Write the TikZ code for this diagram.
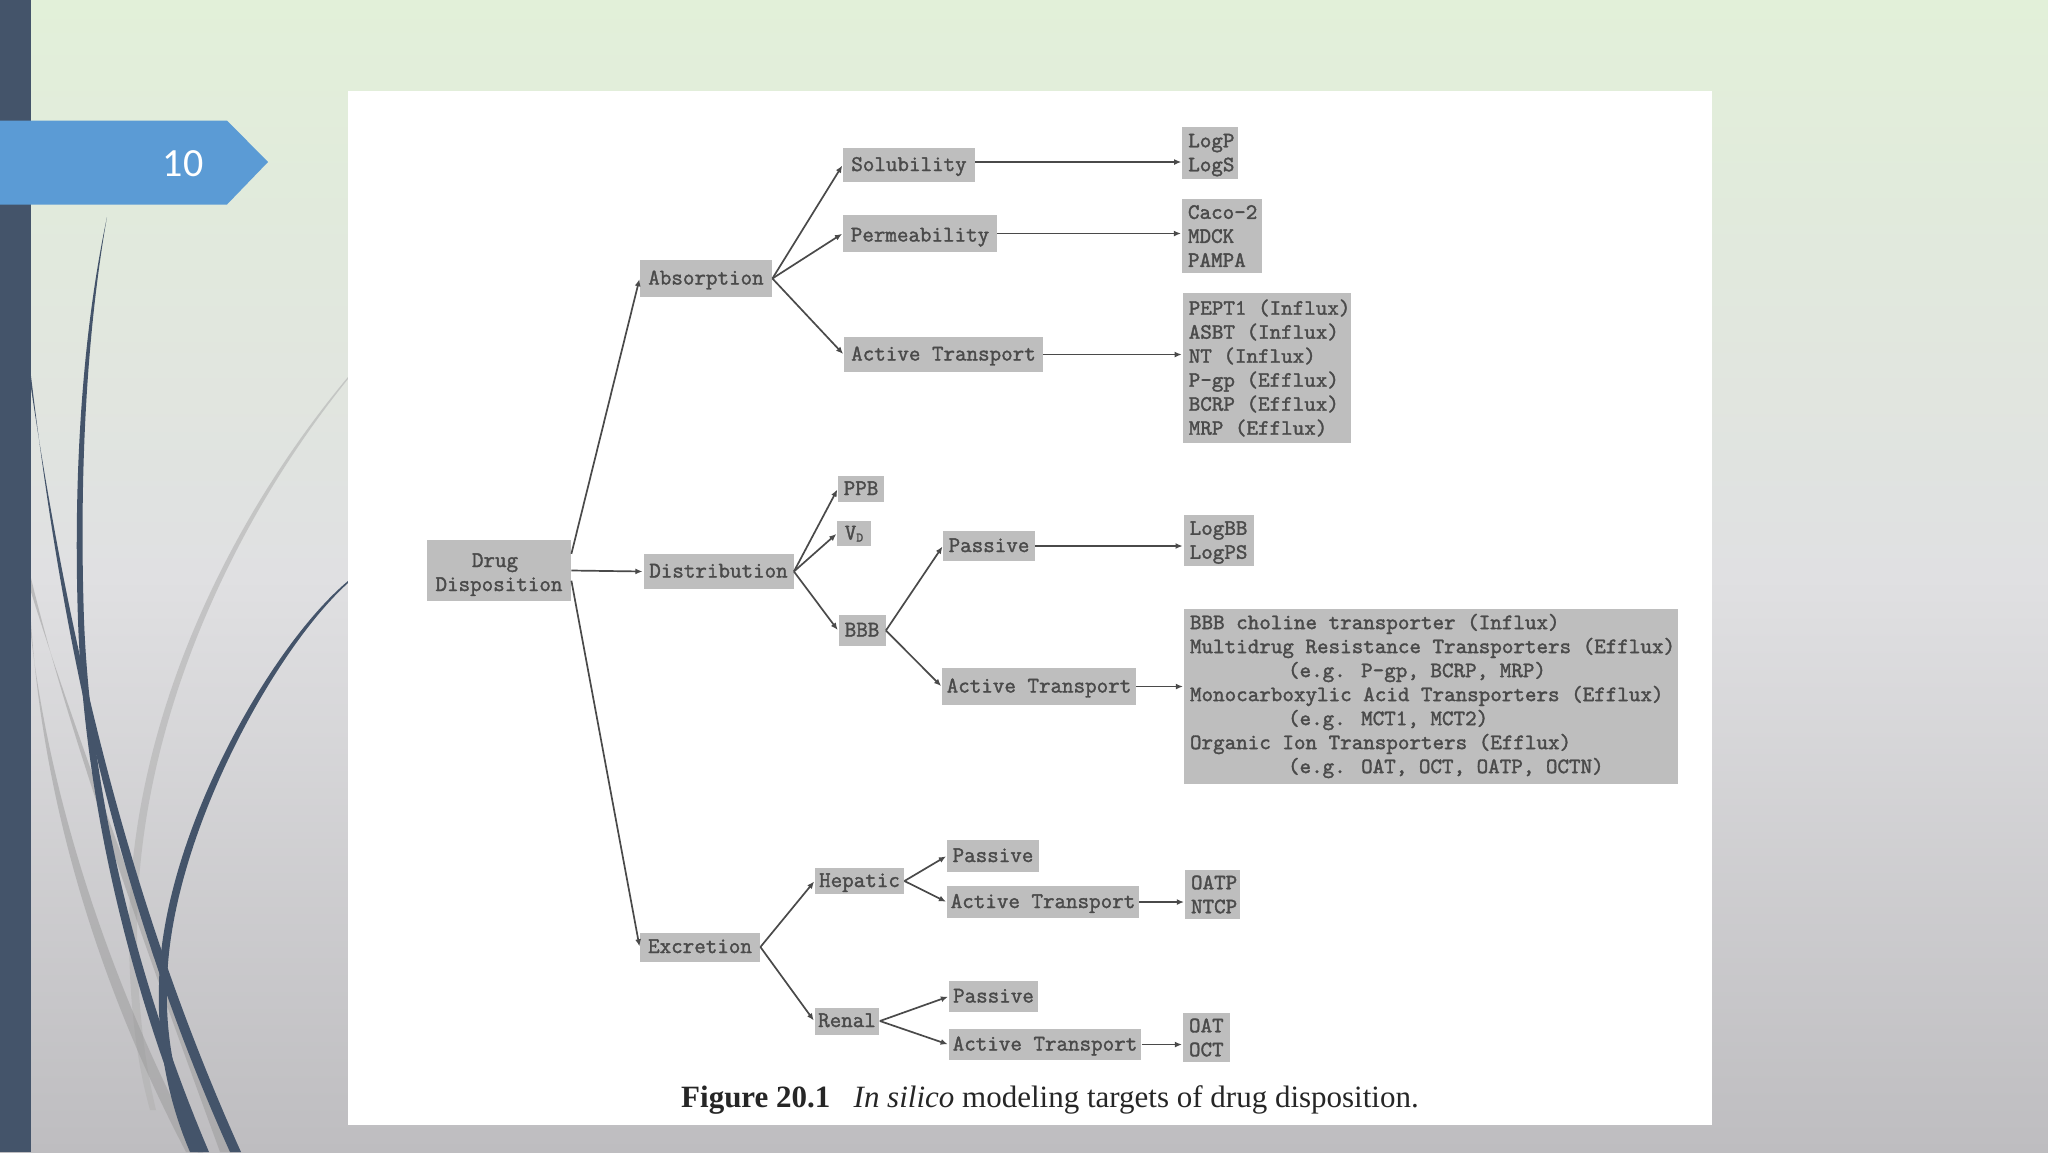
\documentclass[tikz,border=0pt]{standalone}
\usepackage{fontspec}
\newfontfamily\capfont{Liberation Serif}
\newfontfamily\numfont{Carlito}
\newfontfamily\boxfont[FakeBold=1.6]{Latin Modern Mono}
\usetikzlibrary{arrows.meta}

\definecolor{bgtop}{HTML}{E2F0D9}
\definecolor{bgmid}{HTML}{E0E0E2}
\definecolor{bgbot}{HTML}{BEBDC0}
\definecolor{barcol}{HTML}{44546A}
\definecolor{tagcol}{HTML}{5B9BD5}
\definecolor{boxcol}{HTML}{BEBEBE}
\definecolor{inkcol}{HTML}{4A4A4A}

\tikzset{
  tbox/.style={fill=boxcol, text=inkcol, inner xsep=1.8pt, inner ysep=1pt,
    text height=8pt, text depth=2pt,
    font=\boxfont\fontsize{11.2}{12}\selectfont},
  listbox/.style={fill=boxcol, text=inkcol, inner xsep=2pt, inner ysep=1pt, align=flush left,
    execute at begin node={\leftskip=1pt\rightskip=-3pt plus 1fil\relax},
    font=\boxfont\fontsize{11}{12}\selectfont},
  arr/.style={draw=inkcol, line width=0.85pt, shorten >=0.3pt, -{Latex[length=3.6pt,width=3pt]}}
}

\begin{document}
\begin{tikzpicture}[x=0.5pt,y=-0.5pt]
  \useasboundingbox (0,0) rectangle (2048,1152);
  % Fondo
  \shade[top color=bgtop, bottom color=bgbot, middle color=bgmid] (0,0) rectangle (2048,1152);

  % Curvas claras
  \fill[gray!60, opacity=.6] (348,377) .. controls (230,518) and (130,720) .. (129,930)
    .. controls (129,1000) and (136,1060) .. (150,1110) -- (156,1110)
    .. controls (144,1060) and (137,1000) .. (137,930) .. controls (138,722) and (233,522) .. (348,379) -- cycle;
  \fill[gray!80, opacity=.5] (31,578) .. controls (70,740) and (150,960) .. (220,1152) -- (232,1152)
    .. controls (158,956) and (76,736) .. (31,592) -- cycle;
  \fill[gray!80, opacity=.5] (31,622) .. controls (43,800) and (96,980) .. (186,1152) -- (199,1152)
    .. controls (106,976) and (50,796) .. (31,636) -- cycle;

  % Curvas oscuras
  \fill[barcol] (31,376) .. controls (62,636) and (114,894) .. (230,1152) -- (241,1152)
    .. controls (124,892) and (68,634) .. (31,388) -- cycle;
  \fill[barcol] (107,217) .. controls (83,330) and (73,470) .. (78,620)
    .. controls (84,800) and (130,990) .. (198,1152) -- (209,1152)
    .. controls (139,988) and (91,798) .. (84,620) .. controls (79,470) and (87,330) .. (107,217) -- cycle;
  \fill[barcol] (348,581) .. controls (268,648) and (161,840) .. (159,985)
    .. controls (157,1050) and (170,1105) .. (190,1152) -- (203,1152)
    .. controls (181,1105) and (165,1050) .. (167,985) .. controls (169,842) and (272,652) .. (348,583) -- cycle;

  % Barra y etiqueta
  \fill[barcol] (0,0) rectangle (31,1152);
  \fill[tagcol] (0,120.5) -- (227,120.5) -- (268,162) -- (227,204.5) -- (0,204.5) -- cycle;
  \node[text=white, font=\numfont\fontsize{20}{24}\selectfont] (num) at (183,164) {10};

  % Panel
  \fill[white] (348,91) rectangle (1712,1125);

  % Raiz
  \node[tbox, align=center, text width=68.4pt, text height=5.5pt, text depth=9pt, minimum width=72pt, minimum height=30.5pt] (drug) at (499,570.5) {Drug\kern4pt\\Disposition};

  % Primer nivel
  \node[tbox, minimum width=66pt, minimum height=18.5pt] (absorb) at (706,278.5) {Absorption};
  \node[tbox, minimum width=75pt, minimum height=17.5pt] (distrib) at (718.5,571.5) {Distribution};
  \node[tbox, minimum width=60pt, minimum height=14.5pt] (excret) at (700,947) {Excretion};

  % Absorcion
  \node[tbox, minimum width=66pt, minimum height=17pt] (solub) at (909,165) {Solubility};
  \node[tbox, text height=10pt, minimum width=77pt, minimum height=18.5pt] (perm) at (920,233.5) {Permeability};
  \node[tbox, minimum width=99.5pt, minimum height=17.5pt] (activeA) at (943.5,354.5) {Active Transport};
  \node[listbox, text width=23.75pt, text height=8.8pt, minimum height=26pt] (listS) at (1210,153) {LogP\\LogS};
  \node[listbox, text width=36pt, minimum height=37pt] (listP) at (1222,236) {Caco-2\\MDCK\\PAMPA};
  \node[listbox, text width=80.25pt, minimum height=75pt] (listA) at (1267,368)
    {PEPT1 (Influx)\\ASBT (Influx)\\NT (Influx)\\P-gp (Efflux)\\BCRP (Efflux)\\MRP (Efflux)};

  % Distribucion
  \node[tbox, minimum width=23pt, minimum height=13pt] (ppb) at (861,489) {PPB};
  \node[tbox, minimum width=16.75pt, minimum height=12.5pt] (vd) at (854,533.5) {V\raisebox{-1pt}{\fontsize{6.5}{6.5}\selectfont D}};
  \node[tbox, minimum width=23.5pt, minimum height=15.5pt] (bbb) at (862,630.5) {BBB};
  \node[tbox, minimum width=45.8pt, minimum height=15pt] (passB) at (989,546) {Passive};
  \node[tbox, minimum width=97pt, minimum height=18.5pt] (activeB) at (1039,686.5) {Active Transport};
  \node[listbox, text width=31.3pt, text height=8.8pt, minimum height=23.5pt] (listB) at (1219,540.5) {LogBB\\LogPS};
  \node[listbox, text width=243pt, minimum height=87.5pt] (listT) at (1431,696)
    {BBB choline transporter (Influx)\\Multidrug Resistance Transporters (Efflux)\\\hspace*{49pt}(e.g. P-gp, BCRP, MRP)\\Monocarboxylic Acid Transporters (Efflux)\\\hspace*{49pt}(e.g. MCT1, MCT2)\\Organic Ion Transporters (Efflux)\\\hspace*{49pt}(e.g. OAT, OCT, OATP, OCTN)};

  % Excrecion
  \node[tbox, minimum width=44.5pt, minimum height=13pt] (hepat) at (859.5,881) {Hepatic};
  \node[tbox, minimum width=32pt, minimum height=13.5pt] (renal) at (847,1021) {Renal};
  \node[tbox, minimum width=46pt, minimum height=16pt] (passH) at (993,856) {Passive};
  \node[tbox, minimum width=96pt, minimum height=16pt] (activeH) at (1043,902) {Active Transport};
  \node[tbox, minimum width=44.5pt, minimum height=15.5pt] (passR) at (993.5,996.5) {Passive};
  \node[tbox, minimum width=96.25pt, minimum height=15.5pt] (activeR) at (1045,1044.5) {Active Transport};
  \node[listbox, text width=23.5pt, minimum height=24.5pt] (listH) at (1212.5,894.5) {OATP\\NTCP};
  \node[listbox, text width=19.5pt, minimum height=24.5pt] (listR) at (1206.5,1037.5) {OAT\\OCT};

  % Pie de figura
  \node[font=\capfont\fontsize{15.5}{17}\selectfont, text=black!85] (caption) at (1050,1100)
    {\textbf{Figure 20.1}\hspace{.75em}\textit{In silico} modeling targets of drug disposition.};

  % Conexiones
  \draw[arr] (drug.13) -- (absorb.west);
  \draw[arr] (drug.east) -- (distrib.west);
  \draw[arr] (drug.-8) -- (excret.west);
  \draw[arr] (absorb.east) -- (solub.west);
  \draw[arr] (absorb.east) -- (perm.west);
  \draw[arr] (absorb.east) -- (activeA.west);
  \draw[arr] ([yshift=1.5pt]solub.east) -- ([yshift=1.5pt]solub.east -| listS.west);
  \draw[arr] (perm.east) -- (perm.east -| listP.west);
  \draw[arr] (activeA.east) -- (activeA.east -| listA.west);
  \draw[arr] (distrib.east) -- (ppb.west);
  \draw[arr] (distrib.east) -- (vd.west);
  \draw[arr] (distrib.east) -- (bbb.west);
  \draw[arr] (bbb.east) -- (passB.west);
  \draw[arr] (bbb.east) -- (activeB.west);
  \draw[arr] (passB.east) -- (passB.east -| listB.west);
  \draw[arr] (activeB.east) -- (activeB.east -| listT.west);
  \draw[arr] (excret.east) -- (hepat.west);
  \draw[arr] (excret.east) -- (renal.west);
  \draw[arr] (hepat.east) -- (passH.west);
  \draw[arr] (hepat.east) -- (activeH.west);
  \draw[arr] (renal.east) -- (passR.west);
  \draw[arr] (renal.east) -- (activeR.west);
  \draw[arr] (activeH.east) -- (activeH.east -| listH.west);
  \draw[arr] (activeR.east) -- (activeR.east -| listR.west);
\end{tikzpicture}
\end{document}
